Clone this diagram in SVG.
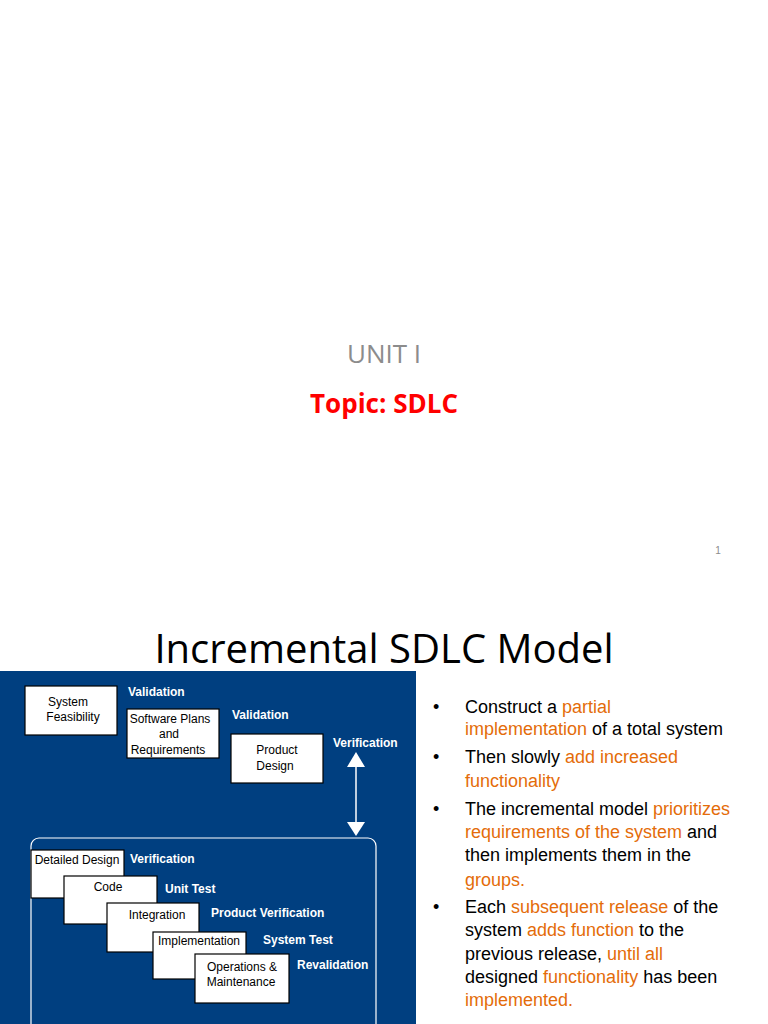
<svg xmlns="http://www.w3.org/2000/svg" width="768" height="1024" viewBox="0 0 768 1024">
<style>
.b{fill:#fff;stroke:#000;stroke-width:1.2}
.t{font-family:"Liberation Sans",Arial,sans-serif;font-size:12px;fill:#000}
.w{font-family:"Liberation Sans",Arial,sans-serif;font-size:12px;fill:#fff;font-weight:bold}
.r{font-family:"Liberation Sans",Arial,sans-serif;font-size:18px;fill:#000}
.o{fill:#e46c0a}
</style>
<rect width="768" height="1024" fill="#fff"/>
<text x="384" y="363" text-anchor="middle" font-family="Open Sans,sans-serif" font-size="26" fill="#8c8c8c">UNIT I</text>
<text x="384" y="413" text-anchor="middle" font-family="Open Sans,sans-serif" font-size="26" font-weight="bold" fill="#ff0000">Topic: SDLC</text>
<text x="718" y="554" text-anchor="middle" font-family="Liberation Sans,sans-serif" font-size="10" fill="#8c8c8c">1</text>
<text x="384" y="663" text-anchor="middle" font-family="Open Sans,sans-serif" font-size="40" fill="#000">Incremental SDLC Model</text>
<rect x="0" y="671" width="416" height="353" fill="#003f80"/>
<g id="connectors" stroke="#fff" fill="#fff">
<line x1="356" y1="764" x2="356" y2="826" stroke-width="1.5"/>
<polygon points="356,752 347,767 365,767" stroke="none"/>
<polygon points="356,836 347,822 365,822" stroke="none"/>
<rect x="31" y="838" width="345" height="200" rx="8" fill="none" stroke-width="1.2"/>
</g>
<g id="n1"><rect class="b" x="25" y="686" width="92" height="49"/><text class="t" x="68" y="706" text-anchor="middle">System</text><text class="t" x="73" y="721" text-anchor="middle">Feasibility</text><text class="w" x="128" y="696">Validation</text></g>
<g id="n2"><rect class="b" x="127" y="709" width="92" height="49"/><text class="t" x="170" y="723" text-anchor="middle">Software Plans</text><text class="t" x="169" y="738" text-anchor="middle">and</text><text class="t" x="168" y="754" text-anchor="middle">Requirements</text><text class="w" x="232" y="719">Validation</text></g>
<g id="n3"><rect class="b" x="231" y="734" width="92" height="49"/><text class="t" x="277" y="754" text-anchor="middle">Product</text><text class="t" x="275" y="770" text-anchor="middle">Design</text><text class="w" x="333" y="747">Verification</text></g>
<g id="n4"><rect class="b" x="31" y="850" width="93" height="48"/><text class="t" x="77" y="864" text-anchor="middle">Detailed Design</text><text class="w" x="130" y="863">Verification</text></g>
<g id="n5"><rect class="b" x="64" y="876" width="93" height="48"/><text class="t" x="108" y="891" text-anchor="middle">Code</text><text class="w" x="165" y="893">Unit Test</text></g>
<g id="n6"><rect class="b" x="107" y="903" width="92" height="49"/><text class="t" x="157" y="919" text-anchor="middle">Integration</text><text class="w" x="211" y="917">Product Verification</text></g>
<g id="n7"><rect class="b" x="153" y="932" width="93" height="47"/><text class="t" x="199" y="945" text-anchor="middle">Implementation</text><text class="w" x="263" y="944">System Test</text></g>
<g id="n8"><rect class="b" x="195" y="954" width="94" height="49"/><text class="t" x="242" y="971" text-anchor="middle">Operations &amp;</text><text class="t" x="241" y="986" text-anchor="middle">Maintenance</text><text class="w" x="297" y="969">Revalidation</text></g>
<g id="bullets" class="r">
<text x="433" y="713">•</text><text x="465" y="713">Construct a <tspan class="o">partial</tspan></text>
<text x="465" y="735"><tspan class="o">implementation</tspan> of a total system</text>
<text x="433" y="763">•</text><text x="465" y="763">Then slowly <tspan class="o">add increased</tspan></text>
<text x="465" y="787" class="o">functionality</text>
<text x="433" y="815">•</text><text x="465" y="815">The incremental model <tspan class="o">prioritizes</tspan></text>
<text x="465" y="838"><tspan class="o">requirements of the system</tspan> and</text>
<text x="465" y="861">then implements them in the</text>
<text x="465" y="886" class="o">groups.</text>
<text x="433" y="913">•</text><text x="465" y="913">Each <tspan class="o">subsequent release</tspan> of the</text>
<text x="465" y="936">system <tspan class="o">adds function</tspan> to the</text>
<text x="465" y="960">previous release, <tspan class="o">until all</tspan></text>
<text x="465" y="983">designed <tspan class="o">functionality</tspan> has been</text>
<text x="465" y="1006" class="o">implemented.</text>
</g>
</svg>
